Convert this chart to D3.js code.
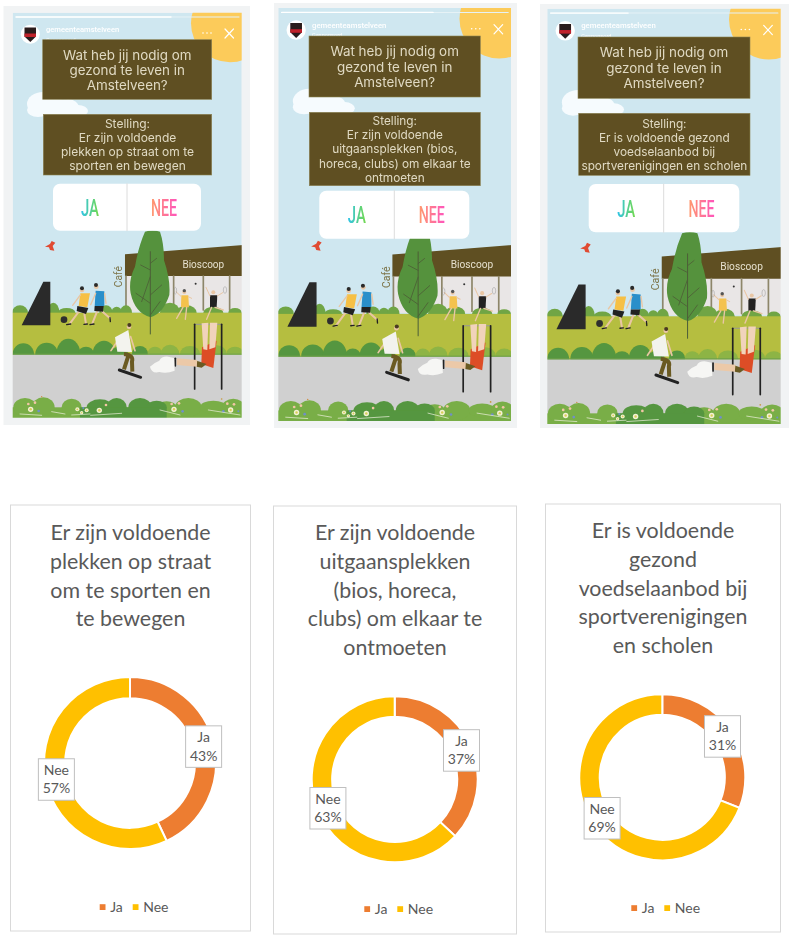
<!DOCTYPE html>
<html>
<head>
<meta charset="utf-8">
<script src="https://cdnjs.cloudflare.com/ajax/libs/d3/7.8.5/d3.min.js"></script>
<style>
    html, body { margin: 0; padding: 0; background: #fff; }
    svg { display: block; }
    .chart-title { font-family: Lato, sans-serif; font-size: 21.4px; fill: #595959; text-anchor: middle; }
    .data-label, .legend-label { font-family: Lato, sans-serif; font-size: 14px; fill: #595959; }
    .data-label { text-anchor: middle; }
    .box-text { font-family: Inter, "Open Sans", sans-serif; fill: #e0d9c3; text-anchor: middle; }
</style>
</head>
<body>
<div id="chart"></div>
<script>
// data
const categories = ['Ja', 'Nee'];
const jaValues = [43, 37, 31];
const neeValues = [57, 63, 69];
const chartTitles = [
    ['Er zijn voldoende', 'plekken op straat', 'om te sporten en', 'te bewegen'],
    ['Er zijn voldoende', 'uitgaansplekken', '(bios, horeca,', 'clubs) om elkaar te', 'ontmoeten'],
    ['Er is voldoende', 'gezond', 'voedselaanbod bij', 'sportverenigingen', 'en scholen']
];
const storyQuestion = ['Wat heb jij nodig om', 'gezond te leven in', 'Amstelveen?'];
const storyStatements = [
    ['Stelling:', 'Er zijn voldoende', 'plekken op straat om te', 'sporten en bewegen'],
    ['Stelling:', 'Er zijn voldoende', 'uitgaansplekken (bios,', 'horeca, clubs) om elkaar te', 'ontmoeten'],
    ['Stelling:', 'Er is voldoende gezond', 'voedselaanbod bij', 'sportverenigingen en scholen']
];

// layout
const colors = { Ja: '#ED7D31', Nee: '#FFC000' };
const panels = [
    { x0: 10.5, x1: 250.5, y0: 505, y1: 931, cx: 130, cy: 763, r: 85, titleY: 540, legendX: 99.7, legendY: 907 },
    { x0: 273.5, x1: 516.5, y0: 506, y1: 934, cx: 394.7, cy: 779.3, r: 82, titleY: 540, legendX: 364.3, legendY: 909 },
    { x0: 545.5, x1: 780.5, y0: 504, y1: 932, cx: 662.3, cy: 777.3, r: 82, titleY: 538, legendX: 631.3, legendY: 908 }
];
const cards = [
    {
        bg: [3.5, 6, 246.5, 419], x: 12.7, y: 12.7, w: 229, h: 405,
        box1: [42.7, 39.7, 169, 59.6], lines1: [55, 70, 85], box2: [43.3, 114.3, 168.4, 60.7], lines2: [123.3, 137.7, 152, 166],
        btn: [53, 183.7, 148, 47], divider: 127, size2: 12
    },
    {
        bg: [274, 3, 243, 425], x: 278.3, y: 8, w: 232.7, h: 413,
        box1: [309, 36, 171.3, 61], lines1: [51, 66.7, 82.3], box2: [309.3, 112.3, 171, 73.4], lines2: [121, 135, 149, 163.3, 177.3],
        btn: [319.3, 190.7, 150, 48], divider: 394.3, size2: 11.8
    },
    {
        bg: [540, 4, 249, 424], x: 547.3, y: 8.7, w: 233.4, h: 415.3,
        box1: [578, 37, 172, 61.3], lines1: [52.3, 68, 83.3], box2: [578.7, 113.3, 171.3, 62], lines2: [123.3, 137.3, 151.3, 165.3],
        btn: [588.7, 184, 150.6, 48.3], divider: 663.7, size2: 11.8
    }
];

const svg = d3.select('#chart').append('svg').attr('width', 789).attr('height', 943);
const defs = svg.append('defs');

defs.append('filter').attr('id', 'soft').attr('x', '-5%').attr('y', '-5%').attr('width', '110%').attr('height', '110%')
    .append('feGaussianBlur').attr('stdDeviation', 0.45);

const jaGrad = defs.append('linearGradient').attr('id', 'jaGrad');
jaGrad.append('stop').attr('offset', '0').attr('stop-color', '#2fc4ea');
jaGrad.append('stop').attr('offset', '1').attr('stop-color', '#74d94c');
const neeGrad = defs.append('linearGradient').attr('id', 'neeGrad');
neeGrad.append('stop').attr('offset', '0').attr('stop-color', '#ff9a6c');
neeGrad.append('stop').attr('offset', '1').attr('stop-color', '#ff54bc');

// small helpers for the illustration
const poly = (g, pts, fill) => g.append('polygon').attr('points', pts).attr('fill', fill);
const line = (g, x1, y1, x2, y2, stroke, w) => g.append('line')
    .attr('x1', x1).attr('y1', y1).attr('x2', x2).attr('y2', y2)
    .attr('stroke', stroke).attr('stroke-width', w).attr('stroke-linecap', 'round');
const dot = (g, x, y, r, fill) => g.append('circle').attr('cx', x).attr('cy', y).attr('r', r).attr('fill', fill);

function bushes(g, list, fill) {
    list.forEach(d => g.append('ellipse').attr('cx', d[0]).attr('cy', d[1]).attr('rx', d[2]).attr('ry', d[3]).attr('fill', fill));
}

// scene coordinates are the 3x crop of the first card, y starting at page 230
function drawScene(g) {
    const SKIN = '#e9c6a4';

    // building
    g.append('rect').attr('x', 380).attr('y', 130).attr('width', 350).attr('height', 115).attr('fill', '#e9e6e6');
    poly(g, '375,73 730,45 730,138 375,138', '#5e4f20');
    [378, 521, 610, 689].forEach(x => line(g, x, 138, x, 240, '#8d866a', 5));
    g.append('text').attr('x', 610).attr('y', 113).attr('text-anchor', 'middle')
        .attr('font-family', 'Roboto, sans-serif').attr('font-size', 30).attr('fill', '#e6e0cf').text('Bioscoop');
    g.append('text').attr('transform', 'translate(367,172) rotate(-90)')
        .attr('font-family', 'Roboto, sans-serif').attr('font-size', 31).attr('fill', '#7d7448').text('Café');

    // grass and hedges
    bushes(g, [[60, 248, 24, 22], [160, 248, 18, 30], [200, 248, 26, 14], [318, 248, 20, 22], [350, 248, 16, 18], [378, 248, 18, 22],
        [510, 248, 30, 30], [560, 248, 30, 22], [640, 248, 30, 18], [705, 248, 20, 14]], '#6fa544');
    g.append('rect').attr('x', 30).attr('y', 248).attr('width', 700).attr('height', 130).attr('fill', '#b5be3f');

    // ramp
    poly(g, '65,286 130,155 151,155 151,286', '#2a2a2a');
    dot(g, 192, 269, 10, '#2f2f2f');

    // tree
    g.append('path').attr('fill', '#55923c')
        .attr('d', 'M435,5 Q458,-2 480,5 Q492,40 492,90 Q512,150 508,195 Q490,250 452,262 Q405,250 392,190 Q385,150 405,110 Q415,50 435,5 Z');
    line(g, 451, 65, 451, 312, '#4d5f38', 3);
    [[451, 120, 422, 105], [451, 100, 470, 85], [451, 195, 485, 165], [451, 140, 425, 215], [451, 255, 480, 215], [451, 220, 408, 190]]
        .forEach(d => line(g, d[0], d[1], d[2], d[3], '#4d5f38', 2.5));

    // butterfly
    poly(g, '135,50 150,42 155,33 166,38 158,48 163,62 150,60 147,52', '#e04b33');

    // football players
    dot(g, 246, 180, 7, SKIN); dot(g, 246, 175, 6, '#2b2b2b');
    poly(g, '241,190 270,190 262,232 236,228', '#f6c044');
    line(g, 241, 195, 218, 226, SKIN, 4);
    line(g, 240, 240, 208, 283, SKIN, 6); line(g, 252, 245, 258, 282, SKIN, 6);
    poly(g, '232,228 265,234 258,252 230,243', '#232323');
    line(g, 200, 284, 212, 282, '#222', 4); line(g, 252, 283, 262, 282, '#222', 4);
    dot(g, 289, 170, 7, SKIN); dot(g, 288, 165, 6, '#2b2b2b');
    poly(g, '287,182 313,184 313,228 284,228', '#2a8fca');
    line(g, 287, 190, 272, 224, SKIN, 4); line(g, 314, 190, 318, 220, SKIN, 4);
    line(g, 292, 243, 276, 283, SKIN, 6); line(g, 305, 243, 330, 265, SKIN, 6);
    poly(g, '284,228 311,228 309,245 283,243', '#232323');
    line(g, 270, 284, 282, 282, '#222', 4); line(g, 330, 263, 331, 275, '#222', 4);

    // tennis players
    dot(g, 553, 186, 6, SKIN); dot(g, 553, 182, 5, '#555');
    poly(g, '544,196 565,196 567,232 543,232', '#f4c24e');
    line(g, 544, 200, 528, 185, SKIN, 3); line(g, 565, 200, 575, 205, SKIN, 3);
    line(g, 549, 232, 530, 265, SKIN, 4); line(g, 560, 232, 556, 268, SKIN, 4);
    g.append('ellipse').attr('cx', 526).attr('cy', 182).attr('rx', 4).attr('ry', 10).attr('fill', 'none').attr('stroke', '#999').attr('stroke-width', 1.5);
    dot(g, 587, 161, 3, '#333');
    dot(g, 640, 187, 6, SKIN);
    poly(g, '630,196 652,196 650,232 630,232', '#222');
    line(g, 630, 198, 618, 172, SKIN, 3); line(g, 652, 198, 668, 188, SKIN, 3);
    line(g, 635, 232, 620, 268, SKIN, 4); line(g, 645, 232, 670, 240, SKIN, 4);
    g.append('ellipse').attr('cx', 675).attr('cy', 180).attr('rx', 5).attr('ry', 10).attr('fill', 'none').attr('stroke', '#999').attr('stroke-width', 1.5);

    // front hedge, then the road covers its lower half
    bushes(g, [[70, 372, 32, 32], [140, 372, 34, 34], [205, 372, 36, 46], [258, 372, 24, 22], [312, 372, 34, 40]], '#55963f');
    bushes(g, [[360, 372, 24, 24], [420, 372, 24, 24]], '#55963f');
    bushes(g, [[465, 372, 22, 22], [510, 372, 28, 28], [570, 372, 30, 24], [650, 372, 30, 26], [705, 372, 26, 22]], '#8db444');
    g.append('rect').attr('x', 30).attr('y', 374).attr('width', 700).attr('height', 160).attr('fill', '#d0d0d0');
    g.append('rect').attr('x', 30).attr('y', 371).attr('width', 700).attr('height', 3).attr('fill', '#6fa04b');

    // skater
    dot(g, 387, 290, 7, SKIN); dot(g, 388, 285, 6, '#4a3a20');
    line(g, 358, 325, 333, 362, SKIN, 5); line(g, 392, 320, 405, 362, SKIN, 5);
    poly(g, '345,322 385,300 396,366 352,365', '#f3f3ee');
    g.append('path').attr('fill', 'none').attr('stroke', '#6b5a22').attr('stroke-width', 12)
        .attr('d', 'M372,372 Q402,375 396,395 L397,425 M385,378 L372,418');
    line(g, 358, 420, 422, 442, '#222', 9);

    // pull up bars
    line(g, 584, 283, 665, 283, '#999', 3);
    line(g, 584, 283, 584, 477, '#222', 5);
    line(g, 665, 283, 665, 477, '#222', 5);

    // hanging figure
    poly(g, '606,352 650,332 640,414 604,402', '#dd4e27');
    poly(g, '605,280 625,278 622,360 610,358', '#f1d3bb');
    poly(g, '630,278 652,278 646,352 628,358', '#f1d3bb');
    poly(g, '590,392 620,402 605,413 590,410', '#6b5a22');
    poly(g, '530,385 592,390 590,410 530,405', '#ecc9a8');
    line(g, 526, 385, 526, 408, '#222', 5);
    g.append('path').attr('fill', '#f6f6f4')
        .attr('d', 'M450,410 Q462,398 478,392 Q485,378 505,380 L522,384 L524,422 Q500,432 478,426 Q455,432 450,410 Z');

    // bottom bushes with flowers
    g.append('rect').attr('x', 30).attr('y', 532).attr('width', 700).attr('height', 40).attr('fill', '#79ae46');
    bushes(g, [[75, 532, 35, 28], [130, 532, 34, 30], [215, 532, 30, 26], [500, 532, 30, 18], [565, 532, 40, 28], [640, 532, 40, 20], [700, 532, 34, 26]], '#79ae46');
    bushes(g, [[300, 532, 40, 24], [350, 532, 30, 28], [420, 532, 35, 28], [470, 532, 30, 20]], '#55963f');
    g.append('rect').attr('x', 240).attr('y', 532).attr('width', 260).attr('height', 40).attr('fill', '#55963f');
    [[92, 538, 8], [232, 538, 6], [260, 541, 6], [298, 541, 8], [522, 538, 8], [692, 540, 8], [245, 548, 5]]
        .forEach(d => { dot(g, d[0], d[1], d[2], '#f4f1d4'); dot(g, d[0], d[1], d[2] * 0.45, '#d8cf58'); });
    [[85, 522, 4, '#f2c6a6'], [105, 518, 4, '#f2c6a6'], [318, 525, 4, '#f2c6a6'], [515, 522, 4, '#f2c6a6'], [537, 520, 4, '#f2c6a6'],
        [682, 521, 4, '#f2c6a6'], [702, 523, 4, '#f2c6a6'], [116, 543, 4, '#6f8fc8'], [250, 534, 3, '#6f8fc8'], [548, 544, 4, '#6f8fc8'], [670, 544, 4, '#6f8fc8'], [715, 544, 3, '#6f8fc8'],
        [125, 500, 2, '#d08a3c'], [665, 507, 2.5, '#c89a3c']]
        .forEach(d => dot(g, d[0], d[1], d[2], d[3]));
    [[60, 552, 125, 556], [155, 545, 195, 552], [215, 555, 270, 552], [272, 556, 365, 550], [480, 540, 540, 555], [625, 540, 720, 555]]
        .forEach(d => line(g, d[0], d[1], d[2], d[3], '#f3f3e4', 2));
}

function drawStory(card, i) {
    const outer = svg.append('g').attr('class', 'story');
    outer.append('rect').attr('x', card.bg[0]).attr('y', card.bg[1]).attr('width', card.bg[2]).attr('height', card.bg[3]).attr('fill', '#f1f3f4');

    defs.append('clipPath').attr('id', 'card' + i).append('rect')
        .attr('x', card.x).attr('y', card.y).attr('width', card.w).attr('height', card.h);

    const clip = outer.append('g').attr('clip-path', `url(#card${i})`);
    const soft = clip.append('g').attr('filter', 'url(#soft)');
    const sx = card.w / 229, sy = card.h / 405;
    const base = soft.append('g')
        .attr('transform', `translate(${card.x},${card.y}) scale(${sx},${sy}) translate(-12.7,-12.7)`);

    base.append('rect').attr('x', 12.7).attr('y', 12.7).attr('width', 229).attr('height', 405).attr('fill', '#cfe7f0');
    dot(base, 230, 23.3, 39, '#fccb5a');
    bushes(base, [[38, 110, 11, 7], [43, 104, 16, 12], [57, 108, 22, 9], [68, 108, 11, 9], [78, 111, 10, 6]], '#f6fbfe');

    const scene = base.append('g').attr('transform', 'translate(0,230) scale(0.3333)');
    drawScene(scene);

    // story header
    line(base, 16, 17, 239, 17, '#e6f2f6', 1);
    line(base, 16, 17, [171, 165, 92][i], 17, '#ffffff', 1.4);
    dot(base, 30.3, 34.3, 9.5, '#ffffff');
    base.append('path').attr('d', 'M24.5,27.5 h11.5 v9 l-5.7,5.5 l-5.8,-5.5 Z').attr('fill', '#2a1a1e');
    base.append('rect').attr('x', 24.5).attr('y', 33.5).attr('width', 11.5).attr('height', 3.5).attr('fill', '#c0202a');
    base.append('text').attr('x', 46).attr('y', 32).attr('font-family', 'Roboto, sans-serif').attr('font-weight', 500).attr('font-size', 7.6).attr('fill', '#ffffff').text('gemeenteamstelveen');
    base.append('text').attr('x', 46).attr('y', 41.5).attr('font-family', 'Roboto, sans-serif').attr('font-size', 5.5).attr('fill', '#ffffff').text('Gesponsord');
    [203, 207, 211].forEach(x => dot(base, x, 33, 0.8, '#ffffff'));
    line(base, 225, 29, 233.5, 38, '#ffffff', 1.2);
    line(base, 233.5, 29, 225, 38, '#ffffff', 1.2);

    // text boxes and the poll buttons stay in page coordinates
    const over = soft.append('g');
    [card.box1, card.box2].forEach(b => over.append('rect')
        .attr('x', b[0]).attr('y', b[1]).attr('width', b[2]).attr('height', b[3])
        .attr('fill', '#5e4f20').attr('stroke', '#8c8356').attr('stroke-width', 0.6));

    const mid = card.box1[0] + card.box1[2] / 2;
    storyQuestion.forEach((t, k) => over.append('text').attr('class', 'box-text')
        .attr('x', mid).attr('y', card.lines1[k]).attr('dy', '0.36em').attr('font-size', 13.4).text(t));
    storyStatements[i].forEach((t, k) => over.append('text').attr('class', 'box-text')
        .attr('x', card.box2[0] + card.box2[2] / 2).attr('y', card.lines2[k]).attr('dy', '0.36em').attr('font-size', card.size2).text(t));

    over.append('rect').attr('x', card.btn[0]).attr('y', card.btn[1]).attr('width', card.btn[2]).attr('height', card.btn[3])
        .attr('rx', 7).attr('fill', '#ffffff');
    line(over, card.divider, card.btn[1], card.divider, card.btn[1] + card.btn[3], '#dcdcdc', 1);
    const btnY = card.btn[1] + card.btn[3] / 2;
    over.append('text').attr('x', (card.btn[0] + card.divider) / 2).attr('y', btnY).attr('dy', '0.36em').attr('text-anchor', 'middle')
        .attr('font-family', 'Roboto, sans-serif').attr('font-weight', 500).attr('font-size', 24)
        .attr('textLength', 18).attr('lengthAdjust', 'spacingAndGlyphs').attr('fill', 'url(#jaGrad)').text('JA');
    over.append('text').attr('x', (card.divider + card.btn[0] + card.btn[2]) / 2).attr('y', btnY).attr('dy', '0.36em').attr('text-anchor', 'middle')
        .attr('font-family', 'Roboto, sans-serif').attr('font-weight', 500).attr('font-size', 24)
        .attr('textLength', 26).attr('lengthAdjust', 'spacingAndGlyphs').attr('fill', 'url(#neeGrad)').text('NEE');
}

function drawDonut(panel, i) {
    const data = categories.map((c, k) => ({ name: c, value: (k === 0 ? jaValues : neeValues)[i] }));
    const g = svg.append('g').attr('class', 'panel');

    g.append('rect').attr('x', panel.x0).attr('y', panel.y0)
        .attr('width', panel.x1 - panel.x0).attr('height', panel.y1 - panel.y0)
        .attr('fill', '#fff').attr('stroke', '#d9d9d9').attr('stroke-width', 1);

    g.selectAll('text.chart-title').data(chartTitles[i]).join('text')
        .attr('class', 'chart-title')
        .attr('x', (panel.x0 + panel.x1) / 2)
        .attr('y', (d, k) => panel.titleY + k * 28.8)
        .text(d => d);

    const pie = d3.pie().sort(null).value(d => d.value);
    // the white stroke eats a px on each edge, so the ring is drawn a bit wider
    const arc = d3.arc().outerRadius(panel.r + 1).innerRadius(panel.r * 0.775 - 1);
    const donut = g.append('g').attr('transform', `translate(${panel.cx},${panel.cy})`);

    donut.selectAll('path').data(pie(data)).join('path')
        .attr('d', arc)
        .attr('fill', d => colors[d.data.name])
        .attr('stroke', '#fff').attr('stroke-width', 2);

    const labels = donut.selectAll('g.label').data(pie(data)).join('g')
        .attr('class', 'label')
        .attr('transform', d => `translate(${arc.centroid(d)})`);
    labels.append('rect').attr('x', -18).attr('y', -20.7).attr('width', 36).attr('height', 41.5)
        .attr('fill', '#fff').attr('stroke', '#bfbfbf').attr('stroke-width', 1);
    labels.append('text').attr('class', 'data-label').attr('y', -4.6).text(d => d.data.name);
    labels.append('text').attr('class', 'data-label').attr('y', 14).text(d => d.data.value + '%');

    // legend
    const legendOffsets = [0, 33];
    categories.forEach((c, k) => {
        const lx = panel.legendX + legendOffsets[k];
        g.append('rect').attr('x', lx).attr('y', panel.legendY - 2.8).attr('width', 5.8).attr('height', 5.8).attr('fill', colors[c]);
        g.append('text').attr('class', 'legend-label').attr('x', lx + 10.5).attr('y', panel.legendY + 4.5).text(c);
    });
}

cards.forEach(drawStory);
panels.forEach(drawDonut);
</script>
</body>
</html>
